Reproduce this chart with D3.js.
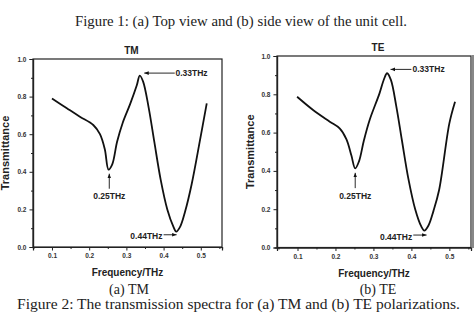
<!DOCTYPE html>
<html><head><meta charset="utf-8">
<script src="https://cdn.jsdelivr.net/npm/d3@7"></script>
<style>
html,body{margin:0;padding:0;background:#fff;}
svg{display:block;}
</style></head>
<body>
<svg id="c" width="474" height="322"></svg>
<script>
// ---- Data ----
const tmFreq = [0.100,0.140,0.175,0.211,0.229,0.242,0.252,0.262,0.275,0.290,0.310,0.328,0.336,0.345,0.360,0.375,0.392,0.410,0.426,0.434,0.445,0.458,0.475,0.498,0.516];
const tmTrans = [0.790,0.738,0.693,0.649,0.600,0.520,0.412,0.440,0.560,0.660,0.760,0.860,0.912,0.880,0.740,0.560,0.360,0.200,0.110,0.082,0.110,0.190,0.330,0.570,0.764];
const teFreq = [0.099,0.141,0.185,0.211,0.229,0.242,0.252,0.262,0.275,0.290,0.316,0.328,0.336,0.346,0.360,0.375,0.392,0.410,0.426,0.434,0.445,0.458,0.473,0.500,0.515];
const teTrans = [0.787,0.718,0.657,0.622,0.565,0.480,0.413,0.450,0.560,0.666,0.805,0.880,0.910,0.875,0.740,0.560,0.360,0.200,0.110,0.088,0.115,0.190,0.300,0.648,0.761];
const xTicks = [0.1,0.2,0.3,0.4,0.5];
const yTicks = [0.0,0.2,0.4,0.6,0.8,1.0];
const panelTitles = ["TM","TE"];
const subCaptions = ["(a) TM","(b) TE"];
// annotations: label, arrow tail (tx,ty), arrow head (hx,hy), label position in data units
const tmNotes = [
  {label:"0.33THz", tx:0.43, ty:0.925, hx:0.348, hy:0.925, lx:0.432, ly:0.925, anchor:"start"},
  {label:"0.25THz", tx:0.254, ty:0.31, hx:0.254, hy:0.39, lx:0.254, ly:0.27, anchor:"middle"},
  {label:"0.44THz", tx:0.40, ty:0.065, hx:0.435, hy:0.065, lx:0.397, ly:0.057, anchor:"end"}
];
const teNotes = [
  {label:"0.33THz", tx:0.40, ty:0.93, hx:0.345, hy:0.93, lx:0.403, ly:0.93, anchor:"start"},
  {label:"0.25THz", tx:0.252, ty:0.31, hx:0.252, hy:0.39, lx:0.252, ly:0.27, anchor:"middle"},
  {label:"0.44THz", tx:0.405, ty:0.065, hx:0.44, hy:0.065, lx:0.402, ly:0.057, anchor:"end"}
];

const svg = d3.select("#c");
const sans = "'Liberation Sans', Arial, sans-serif";
const serif = "'Liberation Serif', 'DejaVu Serif', serif";

svg.append("defs").append("marker")
  .attr("id","ah").attr("viewBox","0 0 10 10").attr("refX",10).attr("refY",5)
  .attr("markerWidth",5).attr("markerHeight",5).attr("orient","auto-start-reverse")
  .append("path").attr("d","M0,1 L10,5 L0,9 Z").attr("fill","#111");

svg.append("text").attr("x",241).attr("y",26).attr("text-anchor","middle")
  .attr("font-family",serif).attr("font-size",14).attr("fill","#222")
  .attr("textLength",332).attr("lengthAdjust","spacingAndGlyphs")
  .text("Figure 1: (a) Top view and (b) side view of the unit cell.");

const panels = [
  {x0:33, x1:222, y0:59, y1:247, dom:[0.049,0.557], freq:tmFreq, trans:tmTrans, notes:tmNotes, title:panelTitles[0], sub:subCaptions[0], ylab:4, subx:129},
  {x0:277, x1:471, y0:56, y1:247.5, dom:[0.046,0.557], freq:teFreq, trans:teTrans, notes:teNotes, title:panelTitles[1], sub:subCaptions[1], ylab:249, subx:378}
];

panels.forEach(p => {
  const x = d3.scaleLinear().domain(p.dom).range([p.x0,p.x1]);
  const y = d3.scaleLinear().domain([0,1]).range([p.y1,p.y0]);
  const g = svg.append("g");
  g.append("rect").attr("x",p.x0).attr("y",p.y0).attr("width",p.x1-p.x0).attr("height",p.y1-p.y0)
    .attr("fill","none").attr("stroke","#222").attr("stroke-width",1.2);
  g.append("g").attr("transform",`translate(0,${p.y1})`)
    .call(d3.axisBottom(x).tickValues(xTicks).tickFormat(d3.format(".1f")).tickSize(3.5).tickPadding(3));
  const xminor = d3.range(0.05,0.56,0.1).filter(v=>v>=p.dom[0]&&v<=p.dom[1]);
  g.append("g").attr("transform",`translate(0,${p.y1})`)
    .call(d3.axisBottom(x).tickValues(xminor).tickFormat("").tickSize(2));
  g.append("g").attr("transform",`translate(${p.x0},0)`)
    .call(d3.axisLeft(y).tickValues(yTicks).tickFormat(d3.format(".1f")).tickSize(3.5).tickPadding(3));
  g.append("g").attr("transform",`translate(${p.x0},0)`)
    .call(d3.axisLeft(y).tickValues([0.1,0.3,0.5,0.7,0.9]).tickFormat("").tickSize(2));
  g.selectAll(".domain").attr("stroke","#222").attr("stroke-width",1.2);
  g.selectAll(".tick line").attr("stroke","#222").attr("stroke-width",1);
  g.selectAll(".tick text").attr("font-family",sans).attr("font-weight","bold").attr("font-size",6.5).attr("fill","#333");
  const data = p.freq.map((f,i)=>[f,p.trans[i]]);
  g.append("path").datum(data)
    .attr("d", d3.line().x(d=>x(d[0])).y(d=>y(d[1])).curve(d3.curveCatmullRom.alpha(0.5)))
    .attr("fill","none").attr("stroke","#111").attr("stroke-width",1.8).attr("stroke-linejoin","round");
  p.notes.forEach(n => {
    g.append("line").attr("x1",x(n.tx)).attr("y1",y(n.ty)).attr("x2",x(n.hx)).attr("y2",y(n.hy))
      .attr("stroke","#111").attr("stroke-width",0.9).attr("marker-end","url(#ah)");
    g.append("text").attr("x",x(n.lx)).attr("y",y(n.ly)).attr("dy","0.35em").attr("text-anchor",n.anchor)
      .attr("font-family",sans).attr("font-weight","bold").attr("font-size",8.5).attr("fill","#222").text(n.label);
  });
  g.append("text").attr("x",(p.x0+p.x1)/2+4).attr("y",p.y0-5).attr("text-anchor","middle")
    .attr("font-family",sans).attr("font-weight","bold").attr("font-size",10).attr("fill","#222").text(p.title);
  g.append("text").attr("x",(p.x0+p.x1)/2).attr("y",p.y1+29).attr("text-anchor","middle")
    .attr("font-family",sans).attr("font-weight","bold").attr("font-size",10).attr("fill","#222").text("Frequency/THz");
  g.append("text").attr("transform",`translate(${p.ylab+5},${(p.y0+p.y1)/2}) rotate(-90)`).attr("text-anchor","middle")
    .attr("font-family",sans).attr("font-weight","bold").attr("font-size",11).attr("fill","#222").text("Transmittance");
  svg.append("text").attr("x",p.subx).attr("y",294).attr("text-anchor","middle")
    .attr("font-family",serif).attr("font-size",14).attr("fill","#222").text(p.sub);
});
svg.append("rect").attr("x",471.6).attr("y",55).attr("width",2.4).attr("height",193).attr("fill","#888");

svg.append("text").attr("x",238.5).attr("y",309).attr("text-anchor","middle")
  .attr("font-family",serif).attr("font-size",14).attr("fill","#222")
  .attr("textLength",443).attr("lengthAdjust","spacingAndGlyphs")
  .text("Figure 2: The transmission spectra for (a) TM and (b) TE polarizations.");
</script>
</body></html>
